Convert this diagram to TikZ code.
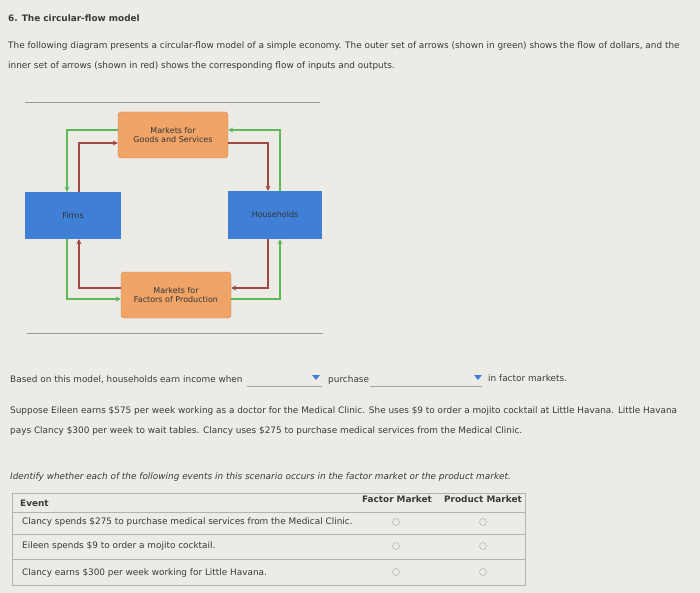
\documentclass[tikz,border=0pt]{standalone}
\usepackage{fontspec}
\setmainfont{DejaVu Sans}
\usetikzlibrary{arrows.meta}
\definecolor{bg}{HTML}{ECEBE5}
\definecolor{og}{HTML}{F0A468}
\definecolor{bl}{HTML}{3F7FD6}
\definecolor{gr}{HTML}{5DB85A}
\definecolor{rd}{HTML}{A04848}
\definecolor{tx}{HTML}{3A3A3A}
\begin{document}
\begin{tikzpicture}[x=1pt,y=-1pt,
  txt/.style={anchor=west,inner sep=0pt,font=\fontsize{8.9}{10}\selectfont,text=tx},
  mkt/.style={fill=og,draw=og!85!black,rounded corners=3pt,align=center,font=\fontsize{8}{8.5}\selectfont,text=black!80,inner sep=0pt},
  agent/.style={fill=bl,inner sep=0pt,font=\fontsize{8}{9}\selectfont,text=black!80},
  gflow/.style={draw=gr,line width=1.6pt,-{Stealth[length=5pt,width=5pt]}},
  rflow/.style={draw=rd,line width=1.4pt,-{Stealth[length=5pt,width=5pt]}},
  rule/.style={draw=gray!80,line width=1pt},
  radio/.style={circle,draw=gray!70,minimum size=7pt,inner sep=0pt}]
\fill[bg] (0,0) rectangle (700,593);
\useasboundingbox (0,0) rectangle (700,593);
\node[txt,font=\bfseries\fontsize{8.9}{10}\selectfont] (title) at (8,18) {6. The circular-flow model};
\node[txt] (p1) at (8,46) {The following diagram presents a circular-flow model of a simple economy. The outer set of arrows (shown in green) shows the flow of dollars, and the};
\node[txt] (p2) at (8,66) {inner set of arrows (shown in red) shows the corresponding flow of inputs and outputs.};
\draw[rule] (25,103) -- (320,103);
\draw[rule] (27,333) -- (323,333);
\node[mkt,minimum width=110pt,minimum height=46pt] (goods) at (173,135) {Markets for\\Goods and Services};
\node[mkt,minimum width=110pt,minimum height=46pt] (factors) at (176,295) {Markets for\\Factors of Production};
\node[agent,minimum width=96pt,minimum height=47pt] (firms) at (73,215.5) {Firms};
\node[agent,minimum width=94pt,minimum height=48pt] (hh) at (275,215) {Households};
% top-left
\draw[gflow] (goods.west |- 0,130) -| (firms.north -| 67,0);
\draw[rflow] (firms.north -| 79,0) |- (goods.west |- 0,143);
% top-right
\draw[gflow] (hh.north -| 280,0) |- (goods.east |- 0,130);
\draw[rflow] (goods.east |- 0,143) -| (hh.north -| 268,0);
% bottom-left
\draw[gflow] (firms.south -| 67,0) |- (factors.west |- 0,299);
\draw[rflow] (factors.west |- 0,288) -| (firms.south -| 79,0);
% bottom-right
\draw[rflow] (hh.south -| 268,0) |- (factors.east |- 0,288);
\draw[gflow] (factors.east |- 0,299) -| (hh.south -| 280,0);
% question
\node[txt] (q1) at (10,380) {Based on this model, households earn income when};
\draw[gray!70,line width=0.6pt] (247,386) -- (322,386);
\fill[bl] (312,375) -- (320,375) -- (316,380) -- cycle;
\node[txt] (q2) at (328,380) {purchase};
\draw[gray!70,line width=0.6pt] (370,386) -- (482,386);
\fill[bl] (474,375) -- (482,375) -- (478,380) -- cycle;
\node[txt] (q3) at (488,378) {in factor markets.};
\node[txt] (s1) at (10,411) {Suppose Eileen earns \$575 per week working as a doctor for the Medical Clinic. She uses \$9 to order a mojito cocktail at Little Havana. Little Havana};
\node[txt] (s2) at (10,431) {pays Clancy \$300 per week to wait tables. Clancy uses \$275 to purchase medical services from the Medical Clinic.};
\node[txt,font=\itshape\fontsize{8.9}{10}\selectfont] (id) at (10,477) {Identify whether each of the following events in this scenario occurs in the factor market or the product market.};
% table
\draw[gray!60,line width=0.8pt] (12,493) rectangle (525,585);
\draw[gray!60,line width=0.8pt] (12,512) -- (525,512);
\draw[gray!60] (12,534) -- (525,534) (12,559) -- (525,559);
\node[txt,font=\bfseries\fontsize{8.9}{10}\selectfont] (ev) at (20,503) {Event};
\node[txt,anchor=center,font=\bfseries\fontsize{8.9}{10}\selectfont] (fm) at (397,499) {Factor Market};
\node[txt,anchor=center,font=\bfseries\fontsize{8.9}{10}\selectfont] (pm) at (483,499) {Product Market};
\node[txt] (r1) at (22,522) {Clancy spends \$275 to purchase medical services from the Medical Clinic.};
\node[txt] (r2) at (22,546) {Eileen spends \$9 to order a mojito cocktail.};
\node[txt] (r3) at (22,573) {Clancy earns \$300 per week working for Little Havana.};
\foreach \y/\n in {522/a,546/b,572/c}{
  \node[radio] (f\n) at (396,\y) {};
  \node[radio] (p\n) at (483,\y) {};}
\end{tikzpicture}
\end{document}
